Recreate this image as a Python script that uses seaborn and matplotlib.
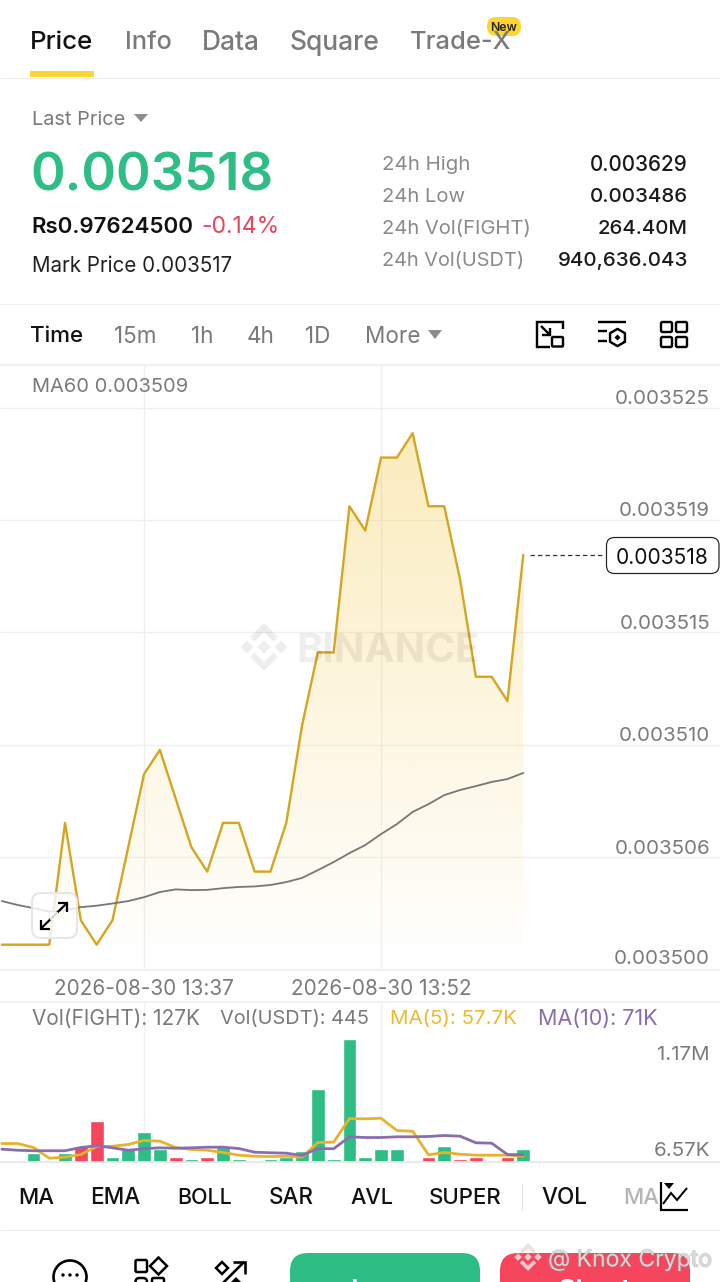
import numpy as np
import pandas as pd
import matplotlib
matplotlib.use("Agg")
import matplotlib.pyplot as plt
from matplotlib.patches import FancyBboxPatch, Polygon, Circle, Rectangle
from matplotlib.transforms import ScaledTranslation
import matplotlib.patheffects as pe
import seaborn as sns

# ---------- data ----------
minutes = list(range(34))
time_ticks = [9, 24]
time_labels = ["2026-08-30 13:37", "2026-08-30 13:52"]

price = [3502, 3502, 3502, 3502, 3507, 3503, 3502, 3503, 3506, 3509, 3510, 3508,
         3506, 3505, 3507, 3507, 3505, 3505, 3507, 3511, 3514, 3514, 3520, 3519,
         3522, 3522, 3523, 3520, 3520, 3517, 3513, 3513, 3512, 3518]
ma60 = [3503.79, 3503.63, 3503.50, 3503.35, 3503.42, 3503.54, 3503.60, 3503.69, 3503.79,
        3503.95, 3504.16, 3504.27, 3504.24, 3504.25, 3504.32, 3504.37, 3504.39, 3504.45,
        3504.57, 3504.74, 3505.06, 3505.39, 3505.76, 3506.09, 3506.54, 3506.95, 3507.45,
        3507.77, 3508.14, 3508.35, 3508.51, 3508.68, 3508.80, 3509.05]
price_ticks = [3524.04, 3519.44, 3514.84, 3510.20, 3505.60, 3500.96]
price_tick_labels = ["0.003525", "0.003519", "0.003515", "0.003510", "0.003506", "0.003500"]
last_price = 3518

volume = [0, 0, 83, 0, 83, 159, 388, 54, 121, 292, 130, 45, 26, 54, 140, 35, 0, 26,
          54, 102, 702, 35, 1170, 45, 121, 121, 0, 54, 150, 35, 54, 0, 54, 127]
side = ["up", "up", "up", "up", "up", "down", "down", "up", "up", "up", "up", "down",
        "up", "down", "up", "up", "up", "up", "up", "up", "up", "up", "up", "up",
        "up", "up", "up", "down", "up", "down", "down", "up", "down", "up"]
vol_ma5 = [178, 178, 140, 38, 48, 73, 150, 152, 169, 207, 200, 140, 121, 114, 92, 67, 57,
           54, 57, 48, 188, 191, 416, 413, 419, 302, 295, 70, 92, 76, 67, 67, 67, 58]
vol_ma10 = [124, 114, 109, 109, 109, 140, 156, 137, 114, 128, 137, 133, 137, 143, 143, 130,
            95, 90, 86, 64, 130, 128, 242, 235, 235, 242, 242, 245, 254, 248, 185, 181, 73, 71]
vol_ticks = [1170, 6.57]
vol_tick_labels = ["1.17M", "6.57K"]

GREEN, RED, GOLD = "#2EBD85", "#F6465D", "#D6A520"
GREY, LINE = "#7A7A7A", "#EFEFEF"

sns.set_theme(style="white")
plt.rcParams["font.family"] = ["Inter", "DejaVu Sans"]
W, H = 720, 1282
fig = plt.figure(figsize=(W / 100, H / 100), dpi=100, facecolor="white")


def rect(x0, y0, x1, y1):
    return [x0 / W, 1 - y1 / H, (x1 - x0) / W, (y1 - y0) / H]


def nudge(label, dy_px):
    label.set_transform(label.get_transform() + ScaledTranslation(0, dy_px / 100, fig.dpi_scale_trans))


XLIM = (-0.116, 45.45)

# ---------- price panel ----------
ax = fig.add_axes(rect(0, 365, 720, 970))
ax.set_axisbelow(True)
ax.grid(True, color=LINE, lw=0.9)
poly = ax.fill_between(minutes, price, 3500.96, color="none")
grad = np.zeros((256, 2, 4))
grad[..., 0], grad[..., 1], grad[..., 2] = 240 / 255, 185 / 255, 11 / 255
grad[..., 3] = np.linspace(0.27, 0.0, 256)[:, None]
im = ax.imshow(grad, extent=[0, 33, 3500.96, max(price)], aspect="auto", origin="upper", zorder=1.5)
im.set_clip_path(poly.get_paths()[0], transform=ax.transData)
sns.lineplot(x=minutes, y=price, color=GOLD, lw=1.7, ax=ax, estimator=None, zorder=3)
sns.lineplot(x=minutes, y=ma60, color="#767676", lw=1.3, ax=ax, estimator=None, zorder=3)
ax.plot([33.4, 38.2], [last_price, last_price], color="#333333", lw=0.9, ls=(0, (3.5, 2.5)), zorder=3)
ax.set_xlim(*XLIM)
ax.set_ylim(3500.96, 3525.80)
ax.set_xticks(time_ticks, time_labels)
ax.set_yticks(price_ticks, price_tick_labels)
ax.yaxis.tick_right()
ax.tick_params(axis="y", length=0, pad=-7.2, labelsize=14.75, labelcolor=GREY)
ax.tick_params(axis="x", length=0, pad=6.5, labelsize=14.9, labelcolor=GREY)
for t in ax.get_yticklabels():
    t.set_ha("right")
    t.set_va("bottom")
ticks = ax.yaxis.get_major_ticks()
nudge(ticks[2].label2, -1)
nudge(ticks[4].label2, -1)
nudge(ticks[5].label2, 2)
for s in ax.spines.values():
    s.set_visible(False)
ax.spines["bottom"].set_visible(True)
ax.spines["bottom"].set_color(LINE)
ax.spines["top"].set_visible(True)
ax.spines["top"].set_color(LINE)
ax.set_xlabel("")
ax.set_ylabel("")

# ---------- volume panel ----------
vax = fig.add_axes(rect(0, 1001.5, 720, 1161.5))
df = pd.DataFrame({"minute": minutes, "volume": volume, "side": side})
sns.barplot(data=df, x="minute", y="volume", hue="side", palette={"up": GREEN, "down": RED},
            native_scale=True, dodge=False, width=0.87, saturation=1, legend=False, ax=vax, zorder=2)
sns.lineplot(x=minutes, y=vol_ma5, color="#E8B32A", lw=2.0, ax=vax, estimator=None, zorder=3)
sns.lineplot(x=minutes, y=vol_ma10, color="#8A6DB1", lw=2.0, ax=vax, estimator=None, zorder=3)
vax.set_xlim(*XLIM)
vax.set_ylim(6.57, 1531)
vax.set_axisbelow(True)
vax.set_xticks(time_ticks, ["", ""])
vax.grid(True, axis="x", color=LINE, lw=0.9)
vax.grid(False, axis="y")
vax.set_yticks(vol_ticks, vol_tick_labels)
vax.yaxis.tick_right()
vax.tick_params(axis="both", length=0)
vax.tick_params(axis="y", pad=-7.2, labelsize=14.75, labelcolor=GREY)
vl = vax.get_yticklabels()
vl[0].set_ha("right"); vl[0].set_va("top"); vl[1].set_ha("right"); vl[1].set_va("bottom")
vticks = vax.yaxis.get_major_ticks()
nudge(vticks[0].label2, -7)
nudge(vticks[1].label2, 2)
for s in vax.spines.values():
    s.set_visible(False)
vax.spines["bottom"].set_visible(True); vax.spines["bottom"].set_color("#E6E6E6")
vax.spines["top"].set_visible(True); vax.spines["top"].set_color(LINE)
vax.set_xlabel(""); vax.set_ylabel("")

# ---------- app chrome overlay ----------
ui = fig.add_axes([0, 0, 1, 1], zorder=10)
ui.set_xlim(0, W); ui.set_ylim(H, 0); ui.axis("off"); ui.patch.set_alpha(0)
rend = fig.canvas.get_renderer()


def T(x, y, s, w=None, px=20, color="black", ha="left", weight="normal", **kw):
    t = ui.text(x, y, s, color=color, ha=ha, va="baseline", fontweight=weight, fontsize=px * 0.72, **kw)
    if w:
        t.set_fontsize(t.get_fontsize() * w / t.get_window_extent(rend).width)
    t.set_y(y + 0.365 * t.get_fontsize() / 0.72)
    return t


def L(xs, ys, lw=2.0, color="black", **kw):
    ui.plot(xs, ys, color=color, lw=lw * 0.72, solid_capstyle=kw.pop("cap", "butt"), solid_joinstyle="miter", **kw)


def rbox(x0, y0, x1, y1, r, fc="none", ec="black", lw=2.0, **kw):
    ui.add_patch(FancyBboxPatch((x0 + r, y0 + r), x1 - x0 - 2 * r, y1 - y0 - 2 * r,
                                boxstyle=f"round,pad={r},rounding_size={r}", fc=fc, ec=ec, lw=lw * 0.72, **kw))


def diamond(cx, cy, r, **kw):
    ui.add_patch(Polygon([(cx - r, cy), (cx, cy - r), (cx + r, cy), (cx, cy + r)], closed=True, **kw))


def logo(cx, cy, r, **kw):
    k = r / 24
    diamond(cx, cy, 6.5 * k, lw=0, **kw)
    diamond(cx - 17 * k, cy, 6.5 * k, lw=0, **kw)
    diamond(cx + 17 * k, cy, 6.5 * k, lw=0, **kw)
    for sgn in (-1, 1):
        ui.add_patch(Polygon([(cx, cy + sgn * 24 * k), (cx + 14 * k, cy + sgn * 10 * k), (cx + 9.5 * k, cy + sgn * 5.5 * k),
                              (cx, cy + sgn * 15 * k), (cx - 9.5 * k, cy + sgn * 5.5 * k), (cx - 14 * k, cy + sgn * 10 * k)],
                             closed=True, lw=0, **kw))


# tabs
T(30, 40, "Price", w=63, weight="medium", color="#111111")
for x, s, w in [(125, "Info", 47), (202, "Data", 58), (290, "Square", 90), (410, "Trade-X", 101)]:
    T(x, 40, s, w=w, weight="medium", color=GREY)
ui.add_patch(Rectangle((30, 71), 64, 6, fc="#FCD535", lw=0))
rbox(487, 17, 521, 36, 9, fc="#FCD535", ec="none", lw=0)
T(504, 26.5, "New", w=27, ha="center", weight="semibold", color="#222222")
L([0, 720], [77.5, 77.5], 1, "#EDEDED")
L([0, 720], [303.5, 303.5], 1, "#EDEDED")
L([0, 720], [1229.5, 1229.5], 1, "#EDEDED")

# price block
T(32, 118, "Last Price", w=93, color=GREY)
ui.add_patch(Polygon([(134, 114), (148, 114), (141, 122)], fc="#8C8C8C", lw=0))
T(30.5, 171, "0.003518", w=243, weight="semibold", color=GREEN)
T(31, 225, "Rs0.97624500", w=162, weight="semibold", color="#111111")
T(201, 225, "-0.14%", w=78, color="#E4475B")
T(32, 264, "Mark Price 0.003517", w=201, color="#222222")
for y, a, aw, b, bw in [(163, "24h High", 88, "0.003629", 98), (195, "24h Low", 83, "0.003486", 98),
                        (227, "24h Vol(FIGHT)", 149, "264.40M", 90), (259, "24h Vol(USDT)", 142, "940,636.043", 130)]:
    T(382, y, a, w=aw, color="#8A8A8A")
    T(688, y, b, w=bw, ha="right", weight="medium", color="#1A1A1A")

# interval row
T(30, 334, "Time", w=53, weight="medium", color="#111111")
for x, s in [(114, "15m"), (191, "1h"), (247, "4h"), (305, "1D"), (365, "More")]:
    T(x, 335, s, px=22.5, color=GREY)
ui.add_patch(Polygon([(428, 330), (442, 330), (435, 339)], fc="#8C8C8C", lw=0))

# toolbar icons
L([563, 563, 537, 537, 550], [329, 322, 322, 346.5, 346.5], 2.4)
rbox(552, 337, 563, 346.5, 1, lw=2.4)
L([541, 550], [326, 335], 2.4)
L([541.5, 550, 550], [335, 335, 328], 2.4)
L([598, 626], [322, 322], 2.4)
L([598, 607], [331, 331], 2.4)
L([598, 607], [341, 341], 2.4)
a = np.deg2rad(np.arange(30, 391, 60))
ui.plot(617.5 + 8.6 * np.cos(a), 337.5 + 8.6 * np.sin(a), color="black", lw=1.75)
diamond(617.5, 337.5, 3, fc="black", lw=0)
for x in (661, 676):
    for y in (322, 337):
        rbox(x, y, x + 11, y + 10, 1.5, lw=2.4)

# legends
T(32, 385, "MA60 0.003509", w=156, color=GREY)
T(32, 1017, "Vol(FIGHT): 127K", w=168, color=GREY)
T(220, 1017, "Vol(USDT): 445", w=149, color=GREY)
T(390, 1017, "MA(5): 57.7K", w=127, color="#EDB92E")
T(538, 1017, "MA(10): 71K", w=120, color="#8A6DB1")

# last price tag
rbox(606.5, 537.5, 719, 573.5, 8, fc="white", ec="#222222", lw=1.2)
T(616, 556, "0.003518", w=93, color="#111111")

# expand button
rbox(32, 893, 77, 938, 9, fc=(1, 1, 1, 0.82), ec="#E6E6E6", lw=2, zorder=4)
L([41, 67], [928.5, 903], 2.2, zorder=5)
L([41, 41, 50], [920, 929, 929], 2.2, zorder=5)
L([58, 67, 67], [903, 903, 912], 2.2, zorder=5)
ui.add_patch(Rectangle((50, 912), 8, 8, fc="white", lw=0, alpha=0.85, zorder=5))

# watermark
logo(264, 647, 24, fc="#000000", alpha=0.065)
T(296, 647, "BINANCE", w=184, weight="bold", color="#000000", alpha=0.065)

# indicator row
for x, s, w in [(18, "MA", 36), (90, "EMA", 50), (177, "BOLL", 55), (269, "SAR", 45), (350, "AVL", 43),
                (429, "SUPER", 73), (541, "VOL", 46)]:
    T(x, 1196, s, w=w, weight="medium", color="#111111")
T(623, 1196, "MA", w=36, weight="medium", color="#B5B5B5")
ui.add_patch(Rectangle((646, 1178), 14, 36, fc="white", alpha=0.6, lw=0))
ui.add_patch(Rectangle((656, 1178), 34, 36, fc="white", lw=0))
L([522, 522], [1183, 1210], 1, "#E3E3E3")
L([661, 661, 688], [1182, 1209.5, 1209.5], 2.2)
L([663, 671, 677, 687], [1204, 1193, 1200, 1188], 2)
ui.add_patch(Polygon([(664, 1183), (674, 1183), (669, 1189)], fc="black", lw=0))

# bottom bar
ui.add_patch(Circle((70, 1277), 16.5, fc="none", ec="black", lw=1.9))
for x in (63, 70, 77):
    ui.add_patch(Circle((x, 1275), 1.7, fc="black", lw=0))
rbox(135.5, 1260, 147, 1272, 1.5, lw=2.5)
diamond(158.5, 1266, 8.5, fc="none", ec="black", lw=1.8)
rbox(135.5, 1278, 147, 1290, 4, lw=2.5)
rbox(152, 1278, 164, 1290, 1.5, lw=2.5)
diamond(222, 1268, 6, fc="none", ec="black", lw=1.8)
L([222, 244], [1284, 1262], 2.6)
L([233, 244.5, 244.5], [1261.5, 1261.5, 1274], 2.6)
diamond(236, 1282, 5, fc="black", lw=0)
rbox(290, 1253, 480, 1310, 18, fc=GREEN, ec="none", lw=0)
rbox(500, 1253, 690, 1310, 18, fc=RED, ec="none", lw=0)
T(351, 1290, "Long", w=68, weight="semibold", color="white")
T(558, 1290, "Short", w=74, weight="semibold", color="white")

# author mark
glow = [pe.withStroke(linewidth=1.2, foreground="#8C8C8C", alpha=0.35)]
logo(528, 1257, 14, fc="#F3DADA", alpha=0.9)
T(548, 1258, "@ Knox Crypto", w=164, color="#D8D8D8", path_effects=glow)

fig.savefig("out.png", dpi=100)
